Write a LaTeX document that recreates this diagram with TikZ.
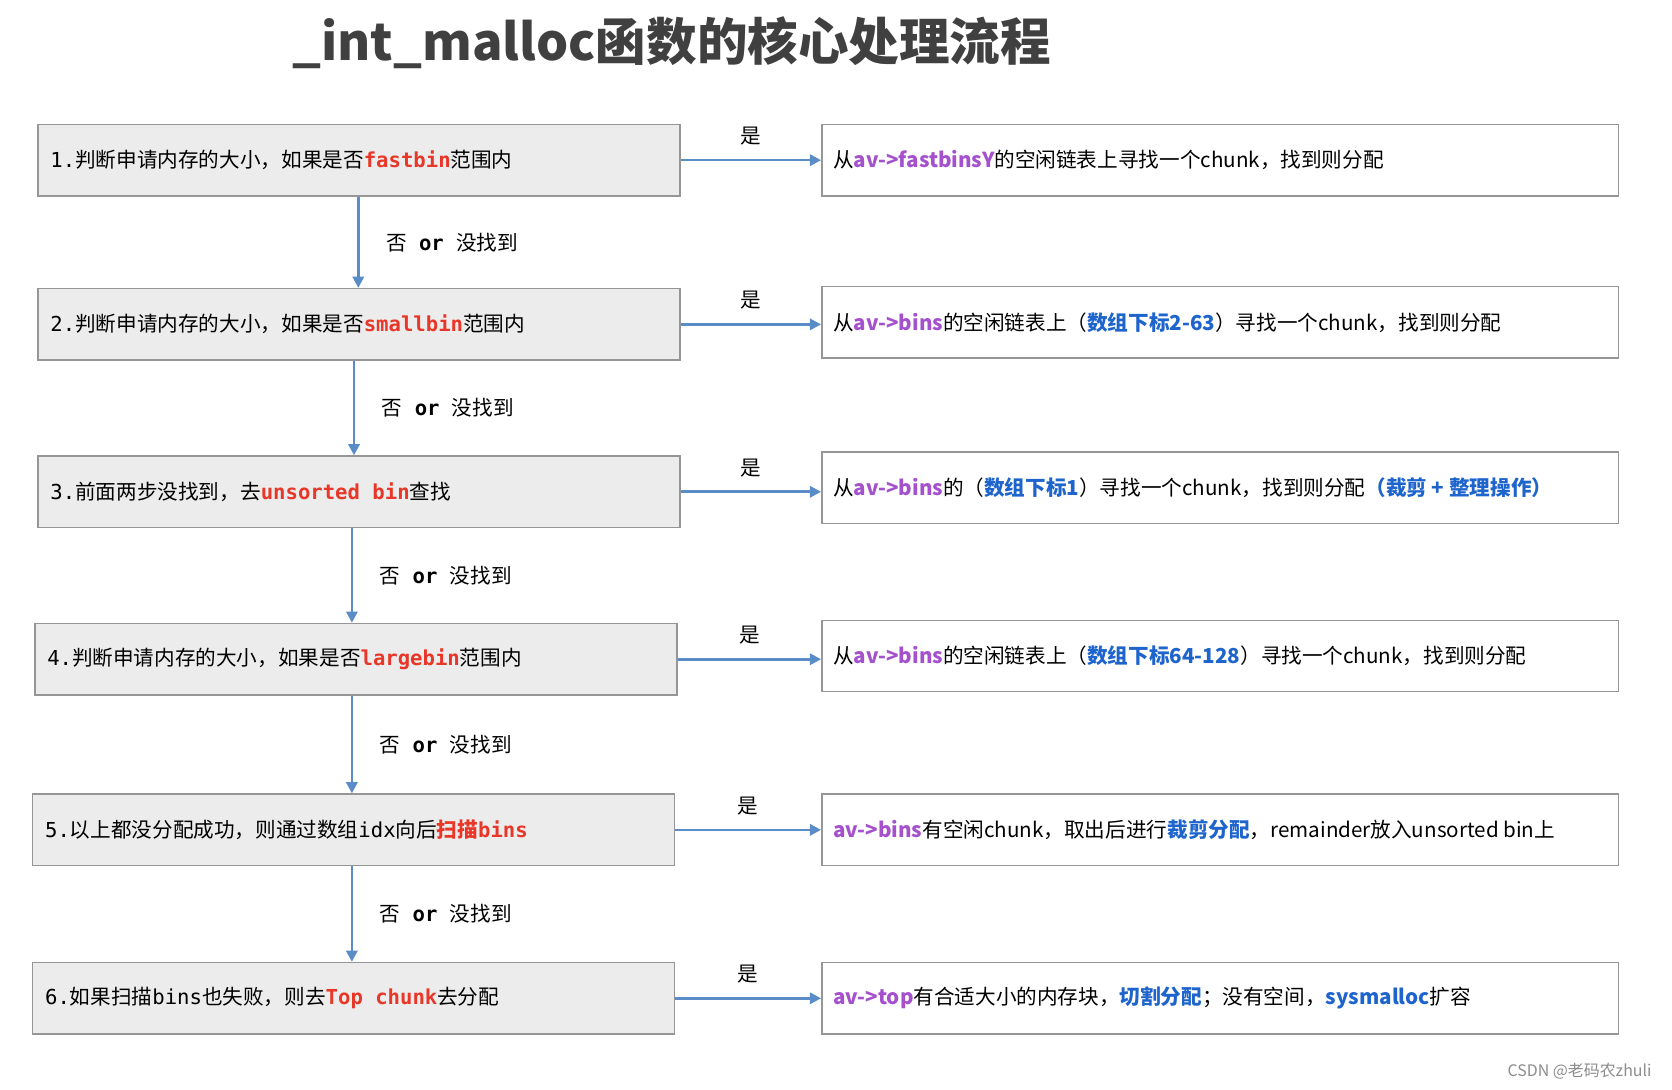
\documentclass[tikz,border=0pt]{standalone}
\usepackage{fontspec}
\setmainfont{Noto Sans CJK SC}
\newfontfamily\mono{DejaVu Sans Mono}
\usetikzlibrary{arrows.meta}
\definecolor{boxfill}{RGB}{236,236,236}
\definecolor{boxline}{RGB}{150,150,150}
\definecolor{arr}{RGB}{90,140,200}
\definecolor{pur}{RGB}{165,80,205}
\definecolor{blu}{RGB}{30,100,205}
\definecolor{red1}{RGB}{232,55,40}
\newcommand{\mM}[1]{{\mono #1}}
\newcommand{\mR}[1]{{\mono\bfseries\color{red1}#1}}
\newcommand{\mRc}[1]{{\bfseries\color{red1}#1}}
\newcommand{\mP}[1]{{\bfseries\color{pur}#1}}
\newcommand{\mB}[1]{{\bfseries\color{blu}#1}}
\tikzset{
 lbox/.style={draw=boxline,fill=boxfill,line width=0.8pt,anchor=north west,inner sep=0pt},
 rbox/.style={draw=boxline,fill=white,line width=0.8pt,anchor=north west,inner sep=0pt},
 ltext/.style={inner sep=0pt,anchor=west,font=\fontsize{11}{13}\selectfont},
 rtext/.style={inner sep=0pt,anchor=west,font=\fontsize{11}{13}\selectfont},
 conn/.style={draw=arr,line width=1.4pt,-{Triangle[length=6pt,width=6pt]}},
 lab/.style={font=\fontsize{11}{13}\selectfont},
}
\newcommand{\LB}[5]{\node[lbox,minimum width=#3*0.02cm,minimum height=67*0.02cm] (#1) at (#2,#4) {};
 \node[ltext] at ([xshift=12*0.02cm]#1.west) {#5};}
\newcommand{\RB}[3]{\node[rbox,minimum width=747*0.02cm,minimum height=67*0.02cm] (#1) at (770,#2) {};
 \node[rtext] at ([xshift=11*0.02cm]#1.west) {#3};}
\begin{document}
\begin{tikzpicture}[x=0.02cm,y=-0.02cm]
\useasboundingbox (0,0) rectangle (1568,1022);
\node[font=\fontsize{27}{30}\selectfont\bfseries,text=black!75] (title) at (630,40) {\_int\_malloc函数的核心处理流程};
\LB{l1}{35}{602}{116}{\mM{1.}判断申请内存的大小，如果是否\mR{fastbin}范围内}
\LB{l2}{35}{602}{270}{\mM{2.}判断申请内存的大小，如果是否\mR{smallbin}范围内}
\LB{l3}{35}{602}{427}{\mM{3.}前面两步没找到，去\mR{unsorted bin}查找}
\LB{l4}{32}{602}{584}{\mM{4.}判断申请内存的大小，如果是否\mR{largebin}范围内}
\LB{l5}{30}{602}{744}{\mM{5.}以上都没分配成功，则通过数组\mM{idx}向后\mRc{扫描}\mR{bins}}
\LB{l6}{30}{602}{902}{\mM{6.}如果扫描\mM{bins}也失败，则去\mR{Top chunk}去分配}
\RB{r1}{116}{从\mP{av->fastbinsY}的空闲链表上寻找一个chunk，找到则分配}
\RB{r2}{268}{从\mP{av->bins}的空闲链表上（\mB{数组下标2-63}）寻找一个chunk，找到则分配}
\RB{r3}{423}{从\mP{av->bins}的（\mB{数组下标1}）寻找一个chunk，找到则分配\mB{（裁剪 + 整理操作）}}
\RB{r4}{581}{从\mP{av->bins}的空闲链表上（\mB{数组下标64-128}）寻找一个chunk，找到则分配}
\RB{r5}{744}{\mP{av->bins}有空闲chunk，取出后进行\mB{裁剪分配}，remainder放入unsorted bin上}
\RB{r6}{902}{\mP{av->top}有合适大小的内存块，\mB{切割分配}；没有空间，\mB{sysmalloc}扩容}
\foreach \i in {1,...,6}{
 \draw[conn] (l\i.east) -- (r\i.west |- l\i.east) node[midway,above=4pt,lab]{是};
}
\foreach \a/\b/\x in {l1/l2/336,l2/l3/332,l3/l4/330,l4/l5/330,l5/l6/330}{
 \draw[conn] (\a.south -| \x,0) -- (\b.north -| \x,0) node[midway,anchor=west,xshift=19*0.02cm,lab]{否\hspace{0.6em}\mM{\bfseries or}\hspace{0.6em}没找到};
}
\node[anchor=south east,font=\fontsize{8.5}{10}\selectfont,text=black!45] (wm) at (1555,1018) {CSDN @老码农zhuli};
\end{tikzpicture}
\end{document}
